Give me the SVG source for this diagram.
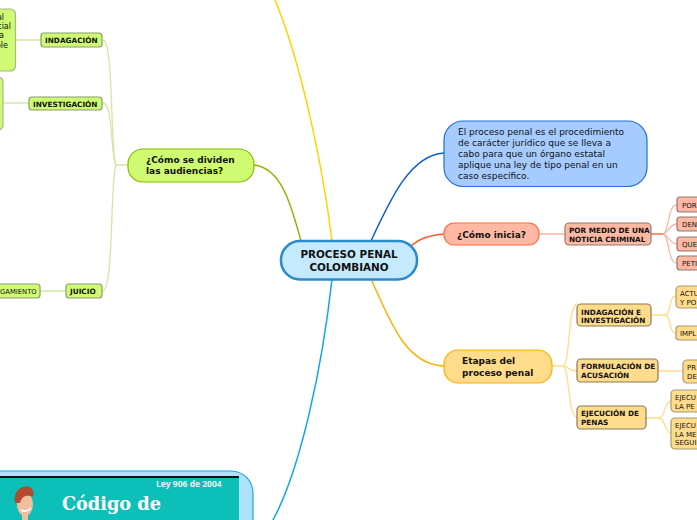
<svg xmlns="http://www.w3.org/2000/svg" width="697" height="520" viewBox="0 0 697 520">
<style>
text{font-family:"DejaVu Sans",Verdana,sans-serif;fill:#111}
.c{fill:none;stroke-linecap:round;stroke-width:1.3}
.b{font-weight:bold}
.t8{font-size:7px}
.s{font-size:7.300px;font-weight:bold}
.r{fill:#ffb8a3;stroke:#8e7a72;stroke-width:1.2}
.ra{fill:#ffb8a3;stroke:#8e7a72;stroke-width:1.2}
.o{fill:#ffdc8c;stroke:#8a7a55;stroke-width:1.2}
.oa{fill:#ffdc8c;stroke:#a89a70;stroke-width:1.2}
.g{fill:#cffb72;stroke:#8b9a70;stroke-width:1.2}
</style>
<g id="connectors">
<path class="c" stroke="#ffd400" style="stroke-width:1.500" d="M332 241C322 160 300 60 275 0"/>
<path class="c" stroke="#8ab800" style="stroke-width:1.500" d="M301 241C290 200 280 168 254 165"/>
<path class="c" stroke="#0a5fd0" style="stroke-width:1.500" d="M371 241C390 200 410 155 444 153"/>
<path class="c" stroke="#ff5a2b" style="stroke-width:1.500" d="M412 245C420 238 430 235 444 234"/>
<path class="c" stroke="#ffb000" style="stroke-width:1.500" d="M371 279C390 320 405 365 444 366"/>
<path class="c" stroke="#0ea5ee" style="stroke-width:1.500" d="M332 279C322 370 300 470 273 520"/>
<path class="c" stroke="#ffb8a3" d="M539 234H565"/>
<path class="c" stroke="#ff6a3c" d="M651 234H664"/>
<g stroke="#ffb8a3"><path class="c" d="M664 234C670 226 668 205 677 205"/><path class="c" d="M664 234C670 230 670 224 677 224"/><path class="c" d="M664 234C670 238 670 244 677 244"/><path class="c" d="M664 234C670 242 668 263 677 263"/></g>
<g stroke="#ffdc8c"><path class="c" d="M552 366H564"/><path class="c" d="M564 366C570 360 568 306 577 304"/><path class="c" d="M564 366C570 368 570 371 577 371"/><path class="c" d="M564 366C570 376 568 415 577 418"/><path class="c" d="M651 315H664C672 315 668 296 676 296"/><path class="c" d="M664 315C672 315 668 333 676 333"/><path class="c" d="M658 371H683"/><path class="c" d="M646 418H658C666 418 664 401 671 401"/><path class="c" d="M658 418C666 418 664 433 671 433"/></g>
<g stroke="#d3e8a6"><path class="c" d="M128 165H116"/><path class="c" d="M116 165C110 150 114 42 103 40"/><path class="c" d="M116 165C110 155 114 105 103 103"/><path class="c" d="M116 165C110 180 114 288 103 291"/><path class="c" d="M16 40H41"/><path class="c" d="M3 103H29"/><path class="c" d="M41 291H66"/></g>
</g>
<g id="root"><rect x="281" y="241" width="136" height="38.500" rx="19" fill="#c5eafe" stroke="#2a8bcc" stroke-width="2.500"/><text class="b" font-size="10.400" text-anchor="middle"><tspan x="349" y="258">PROCESO PENAL</tspan><tspan x="349" y="271">COLOMBIANO</tspan></text></g>
<g id="definicion"><rect x="444" y="121" width="203" height="65.500" rx="19" fill="#a6cbff" stroke="#1e6fdc" stroke-width="1.200"/><text font-size="9"><tspan x="458" y="135">El proceso penal es el procedimiento</tspan><tspan x="458" y="146">de carácter jurídico que se lleva a</tspan><tspan x="458" y="157">cabo para que un órgano estatal</tspan><tspan x="458" y="168">aplique una ley de tipo penal en un</tspan><tspan x="458" y="179">caso específico.</tspan></text></g>
<g id="inicia"><rect x="444" y="223" width="95" height="22" rx="10" fill="#ffb8a3" stroke="#ff6a3c" stroke-width="1.200"/><text class="b" font-size="9" x="457" y="238">¿Cómo inicia?</text></g>
<g id="noticia"><rect class="ra" x="565" y="223" width="86" height="22" rx="4"/><text class="s"><tspan x="569" y="233">POR MEDIO DE UNA</tspan><tspan x="569" y="241.500">NOTICIA CRIMINAL</tspan></text></g>
<g id="r1"><rect class="r" x="677" y="197" width="30" height="15" rx="3"/><text class="t8" x="682" y="208">POR</text></g>
<g id="r2"><rect class="r" x="677" y="217" width="30" height="14" rx="3"/><text class="t8" x="682" y="227">DEN</text></g>
<g id="r3"><rect class="r" x="677" y="237" width="30" height="14" rx="3"/><text class="t8" x="682" y="247">QUE</text></g>
<g id="r4"><rect class="r" x="677" y="256" width="30" height="14" rx="3"/><text class="t8" x="682" y="266">PETI</text></g>
<g id="etapas"><rect x="444" y="350" width="108" height="33" rx="14" fill="#ffdc8c" stroke="#ffb000" stroke-width="1.200"/><text class="b" font-size="9"><tspan x="462" y="364">Etapas del</tspan><tspan x="462" y="376">proceso penal</tspan></text></g>
<g id="indinv"><rect class="o" x="577" y="304" width="74" height="22" rx="4"/><text class="s"><tspan x="581" y="314.500">INDAGACIÓN E</tspan><tspan x="581" y="322.500">INVESTIGACIÓN</tspan></text></g>
<g id="formulacion"><rect class="o" x="577" y="359" width="81" height="23" rx="4"/><text class="s"><tspan x="581" y="369">FORMULACIÓN DE</tspan><tspan x="581" y="378">ACUSACIÓN</tspan></text></g>
<g id="ejecucion"><rect class="o" x="577" y="406" width="69" height="23" rx="4"/><text class="s"><tspan x="581" y="416">EJECUCIÓN DE</tspan><tspan x="581" y="425">PENAS</tspan></text></g>
<g id="o1"><rect class="oa" x="676" y="286" width="30" height="22" rx="4"/><text class="t8"><tspan x="680" y="296">ACTU</tspan><tspan x="680" y="305">Y PO</tspan></text></g>
<g id="o2"><rect class="oa" x="676" y="326" width="30" height="14" rx="3"/><text class="t8" x="680" y="336">IMPL</text></g>
<g id="o3"><rect class="oa" x="683" y="360" width="30" height="23" rx="4"/><text class="t8"><tspan x="687" y="370">PR</tspan><tspan x="687" y="379">DE</tspan></text></g>
<g id="o4"><rect class="oa" x="671" y="390" width="40" height="22" rx="4"/><text class="t8"><tspan x="675" y="400">EJECU</tspan><tspan x="675" y="408.500">LA PE</tspan></text></g>
<g id="o5"><rect class="oa" x="671" y="418" width="40" height="31" rx="4"/><text class="t8"><tspan x="675" y="428">EJECU</tspan><tspan x="675" y="436.500">LA ME</tspan><tspan x="675" y="445">SEGUI</tspan></text></g>
<g id="audiencias"><rect x="128" y="149" width="126" height="33" rx="15" fill="#cffb72" stroke="#8ab800" stroke-width="1.200"/><text class="b" font-size="9"><tspan x="146" y="163">¿Cómo se dividen</tspan><tspan x="146" y="174">las audiencias?</tspan></text></g>
<g id="indagacion"><rect class="g" x="41" y="33" width="61" height="14" rx="3"/><text class="s" x="45" y="43">INDAGACIÓN</text></g>
<g id="investigacion"><rect class="g" x="29" y="97" width="73" height="13" rx="3"/><text class="s" x="33" y="106.500">INVESTIGACIÓN</text></g>
<g id="juicio"><rect class="g" x="66" y="284" width="36" height="14" rx="3"/><text class="s" x="70" y="294">JUICIO</text></g>
<g id="juzgamiento"><rect class="g" x="-30" y="284" width="70" height="14" rx="3"/><text font-size="6.800" x="0" y="294">GAMIENTO</text></g>
<g id="g1"><rect x="-30" y="9" width="45.500" height="62" rx="5" fill="#cffb72" stroke="#a6b88a" stroke-width="1.200"/><text font-size="8" text-anchor="end"><tspan x="4" y="20">al</tspan><tspan x="11" y="29">cial</tspan><tspan x="4" y="38">a</tspan><tspan x="8" y="48">ole</tspan></text></g>
<g id="g2"><rect x="-30" y="77" width="33" height="53" rx="5" fill="#cffb72" stroke="#a6b88a" stroke-width="1.200"/></g>
<g id="codigo"><rect x="-30" y="471" width="283" height="80" rx="22" fill="#ade3fd" stroke="#1ea3ee" stroke-width="1.200"/>
<rect x="-5" y="477" width="244" height="43" fill="#0dbfb9"/><rect x="-5" y="476" width="244" height="2" fill="#111"/>
<text x="156" y="487" font-size="8.500" font-weight="bold" style="fill:#e6f7f2;font-family:'Open Sans',sans-serif">Ley 906 de 2004</text>
<text x="62" y="510" font-size="17.700" font-weight="bold" style="fill:#fff;font-family:'DejaVu Serif',serif">Código de</text>
<ellipse cx="25" cy="504" rx="8" ry="12" fill="#f2bf9e"/><path d="M15 503C13 490 22 485 30 487C34 490 34 494 33 497C26 494 22 496 20 503Z" fill="#b3492d"/><path d="M21 510Q26 513 31 508" stroke="#fff" stroke-width="1.500" fill="none"/><rect x="22" y="515" width="6" height="5" fill="#f2bf9e"/>
</g>
</svg>
